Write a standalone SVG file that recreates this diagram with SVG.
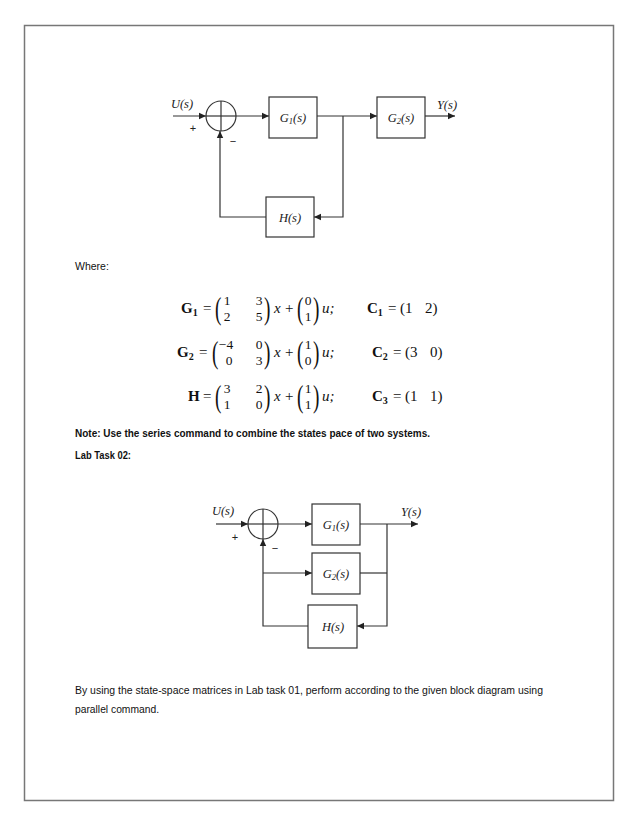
<svg xmlns="http://www.w3.org/2000/svg" width="638" height="826" viewBox="0 0 638 826">
<defs>
<marker id="arr" markerWidth="8" markerHeight="8" refX="7" refY="4" orient="auto" markerUnits="userSpaceOnUse">
<path d="M0,0.8 L7,4 L0,7.2 Z" fill="#222"/>
</marker>
<style>
.ln{stroke:#333;stroke-width:1.2;fill:none}
.bx{stroke:#333;stroke-width:1.2;fill:#fff}
.lbl{font-family:"Liberation Serif",serif;font-style:italic;font-size:12.5px;fill:#222;text-anchor:middle}
.sg{font-family:"Liberation Sans",sans-serif;font-size:11px;fill:#222;text-anchor:middle}
.body{font-family:"Liberation Sans",sans-serif;font-size:10.5px;fill:#111}
.bold{font-weight:bold}
.eq{font-family:"Liberation Serif",serif;font-size:15px;fill:#111}
.eqb{font-family:"Liberation Serif",serif;font-size:15px;font-weight:bold;fill:#111}
.it{font-style:italic}
.par{font-family:"Liberation Serif",serif;font-size:32px;fill:#111}
.num{font-family:"Liberation Serif",serif;font-size:13.5px;fill:#111;text-anchor:middle}
</style>
</defs>
<rect x="24.5" y="25.5" width="589" height="775" fill="#fff" stroke="#777" stroke-width="1.5"/>

<!-- Diagram 1 -->
<g id="connectors1">
<line class="ln" x1="173" y1="116" x2="206" y2="116" marker-end="url(#arr)"/>
<line class="ln" x1="236" y1="116" x2="269" y2="116" marker-end="url(#arr)"/>
<line class="ln" x1="317" y1="116" x2="377" y2="116" marker-end="url(#arr)"/>
<line class="ln" x1="425" y1="116" x2="455" y2="116" marker-end="url(#arr)"/>
<polyline class="ln" points="343,116 343,217 314,217" marker-end="url(#arr)"/>
<polyline class="ln" points="266,217 220,217 220,131" marker-end="url(#arr)"/>
</g>
<g id="sum1">
<circle cx="221" cy="116" r="15" class="bx" fill="none"/>
<line class="ln" x1="206" y1="116" x2="236" y2="116"/>
<line class="ln" x1="221" y1="101" x2="221" y2="131"/>
<text class="sg" x="193" y="132">+</text>
<text class="sg" x="233" y="145">−</text>
</g>
<g id="G1a"><rect class="bx" x="269" y="97" width="48" height="41"/><text class="lbl" x="293" y="122">G<tspan font-size="8.5" dy="2">1</tspan><tspan dy="-2">(s)</tspan></text></g>
<g id="G2a"><rect class="bx" x="377" y="97" width="48" height="41"/><text class="lbl" x="401" y="122">G<tspan font-size="8.5" dy="2">2</tspan><tspan dy="-2">(s)</tspan></text></g>
<g id="Ha"><rect class="bx" x="266" y="197" width="48" height="40"/><text class="lbl" x="290" y="222">H(s)</text></g>
<text class="lbl" x="182" y="108">U(s)</text>
<text class="lbl" x="447" y="109">Y(s)</text>

<text class="body" x="75" y="270">Where:</text>

<!-- Equations -->
<g id="eq1">
<text class="eqb" x="181" y="313">G<tspan font-size="10" dy="3">1</tspan></text>
<text class="eq" x="203" y="313">=</text>
<text class="par" transform="translate(215,319) scale(0.6,1)">(</text>
<text class="num" x="227" y="305">1</text><text class="num" x="259" y="305">3</text>
<text class="num" x="227" y="321">2</text><text class="num" x="259" y="321">5</text>
<text class="par" transform="translate(264,319) scale(0.6,1)">)</text>
<text class="eq it" x="274" y="313">x</text><text class="eq" x="285" y="313">+</text>
<text class="par" transform="translate(297,319) scale(0.6,1)">(</text>
<text class="num" x="308" y="305">0</text><text class="num" x="308" y="321">1</text>
<text class="par" transform="translate(313,319) scale(0.6,1)">)</text>
<text class="eq it" x="322" y="313">u;</text>
<text class="eqb" x="367" y="313">C<tspan font-size="10" dy="3">1</tspan></text>
<text class="eq" x="388" y="313">=</text>
<text class="eq" x="400" y="313">(1</text>
<text class="eq" x="425" y="313">2)</text>
</g>
<g id="eq2">
<text class="eqb" x="177" y="357">G<tspan font-size="10" dy="3">2</tspan></text>
<text class="eq" x="199" y="357">=</text>
<text class="par" transform="translate(212,363) scale(0.6,1)">(</text>
<text class="num" x="226" y="349">−4</text><text class="num" x="259" y="349">0</text>
<text class="num" x="229" y="365">0</text><text class="num" x="259" y="365">3</text>
<text class="par" transform="translate(264,363) scale(0.6,1)">)</text>
<text class="eq it" x="274" y="357">x</text><text class="eq" x="285" y="357">+</text>
<text class="par" transform="translate(297,363) scale(0.6,1)">(</text>
<text class="num" x="308" y="349">1</text><text class="num" x="308" y="365">0</text>
<text class="par" transform="translate(313,363) scale(0.6,1)">)</text>
<text class="eq it" x="322" y="357">u;</text>
<text class="eqb" x="372" y="357">C<tspan font-size="10" dy="3">2</tspan></text>
<text class="eq" x="393" y="357">=</text>
<text class="eq" x="405" y="357">(3</text>
<text class="eq" x="430" y="357">0)</text>
</g>
<g id="eq3">
<text class="eqb" x="188" y="401">H</text>
<text class="eq" x="203" y="401">=</text>
<text class="par" transform="translate(215,407) scale(0.6,1)">(</text>
<text class="num" x="227" y="393">3</text><text class="num" x="259" y="393">2</text>
<text class="num" x="227" y="409">1</text><text class="num" x="259" y="409">0</text>
<text class="par" transform="translate(264,407) scale(0.6,1)">)</text>
<text class="eq it" x="274" y="401">x</text><text class="eq" x="285" y="401">+</text>
<text class="par" transform="translate(297,407) scale(0.6,1)">(</text>
<text class="num" x="308" y="393">1</text><text class="num" x="308" y="409">1</text>
<text class="par" transform="translate(313,407) scale(0.6,1)">)</text>
<text class="eq it" x="322" y="401">u;</text>
<text class="eqb" x="372" y="401">C<tspan font-size="10" dy="3">3</tspan></text>
<text class="eq" x="393" y="401">=</text>
<text class="eq" x="405" y="401">(1</text>
<text class="eq" x="430" y="401">1)</text>
</g>

<text class="body bold" x="75" y="437" textLength="355" lengthAdjust="spacingAndGlyphs">Note: Use the series command to combine the states pace of two systems.</text>
<text class="body bold" x="75" y="459" textLength="56" lengthAdjust="spacingAndGlyphs">Lab Task 02:</text>

<!-- Diagram 2 -->
<g id="connectors2">
<line class="ln" x1="216" y1="524" x2="248" y2="524" marker-end="url(#arr)"/>
<line class="ln" x1="278" y1="524" x2="312" y2="524" marker-end="url(#arr)"/>
<line class="ln" x1="360" y1="524" x2="418" y2="524" marker-end="url(#arr)"/>
<line class="ln" x1="360" y1="573" x2="387" y2="573"/>
<polyline class="ln" points="387,524 387,626 357,626" marker-end="url(#arr)"/>
<polyline class="ln" points="308,626 263,626 263,539" marker-end="url(#arr)"/>
<line class="ln" x1="263" y1="573" x2="312" y2="573" marker-end="url(#arr)"/>
</g>
<g id="sum2">
<circle cx="263" cy="524" r="15" class="bx" fill="none"/>
<line class="ln" x1="248" y1="524" x2="278" y2="524"/>
<line class="ln" x1="263" y1="509" x2="263" y2="539"/>
<text class="sg" x="235" y="541">+</text>
<text class="sg" x="275" y="552">−</text>
</g>
<g id="G1b"><rect class="bx" x="312" y="504" width="48" height="41"/><text class="lbl" x="336" y="529">G<tspan font-size="8.5" dy="2">1</tspan><tspan dy="-2">(s)</tspan></text></g>
<g id="G2b"><rect class="bx" x="312" y="553" width="48" height="41"/><text class="lbl" x="336" y="578">G<tspan font-size="8.5" dy="2">2</tspan><tspan dy="-2">(s)</tspan></text></g>
<g id="Hb"><rect class="bx" x="308" y="605" width="49" height="43"/><text class="lbl" x="333" y="631">H(s)</text></g>
<text class="lbl" x="223" y="515">U(s)</text>
<text class="lbl" x="411" y="516">Y(s)</text>

<text class="body" x="75" y="694" textLength="468" lengthAdjust="spacingAndGlyphs">By using the state-space matrices in Lab task 01, perform according to the given block diagram using</text>
<text class="body" x="75" y="713" textLength="84" lengthAdjust="spacingAndGlyphs">parallel command.</text>
</svg>
